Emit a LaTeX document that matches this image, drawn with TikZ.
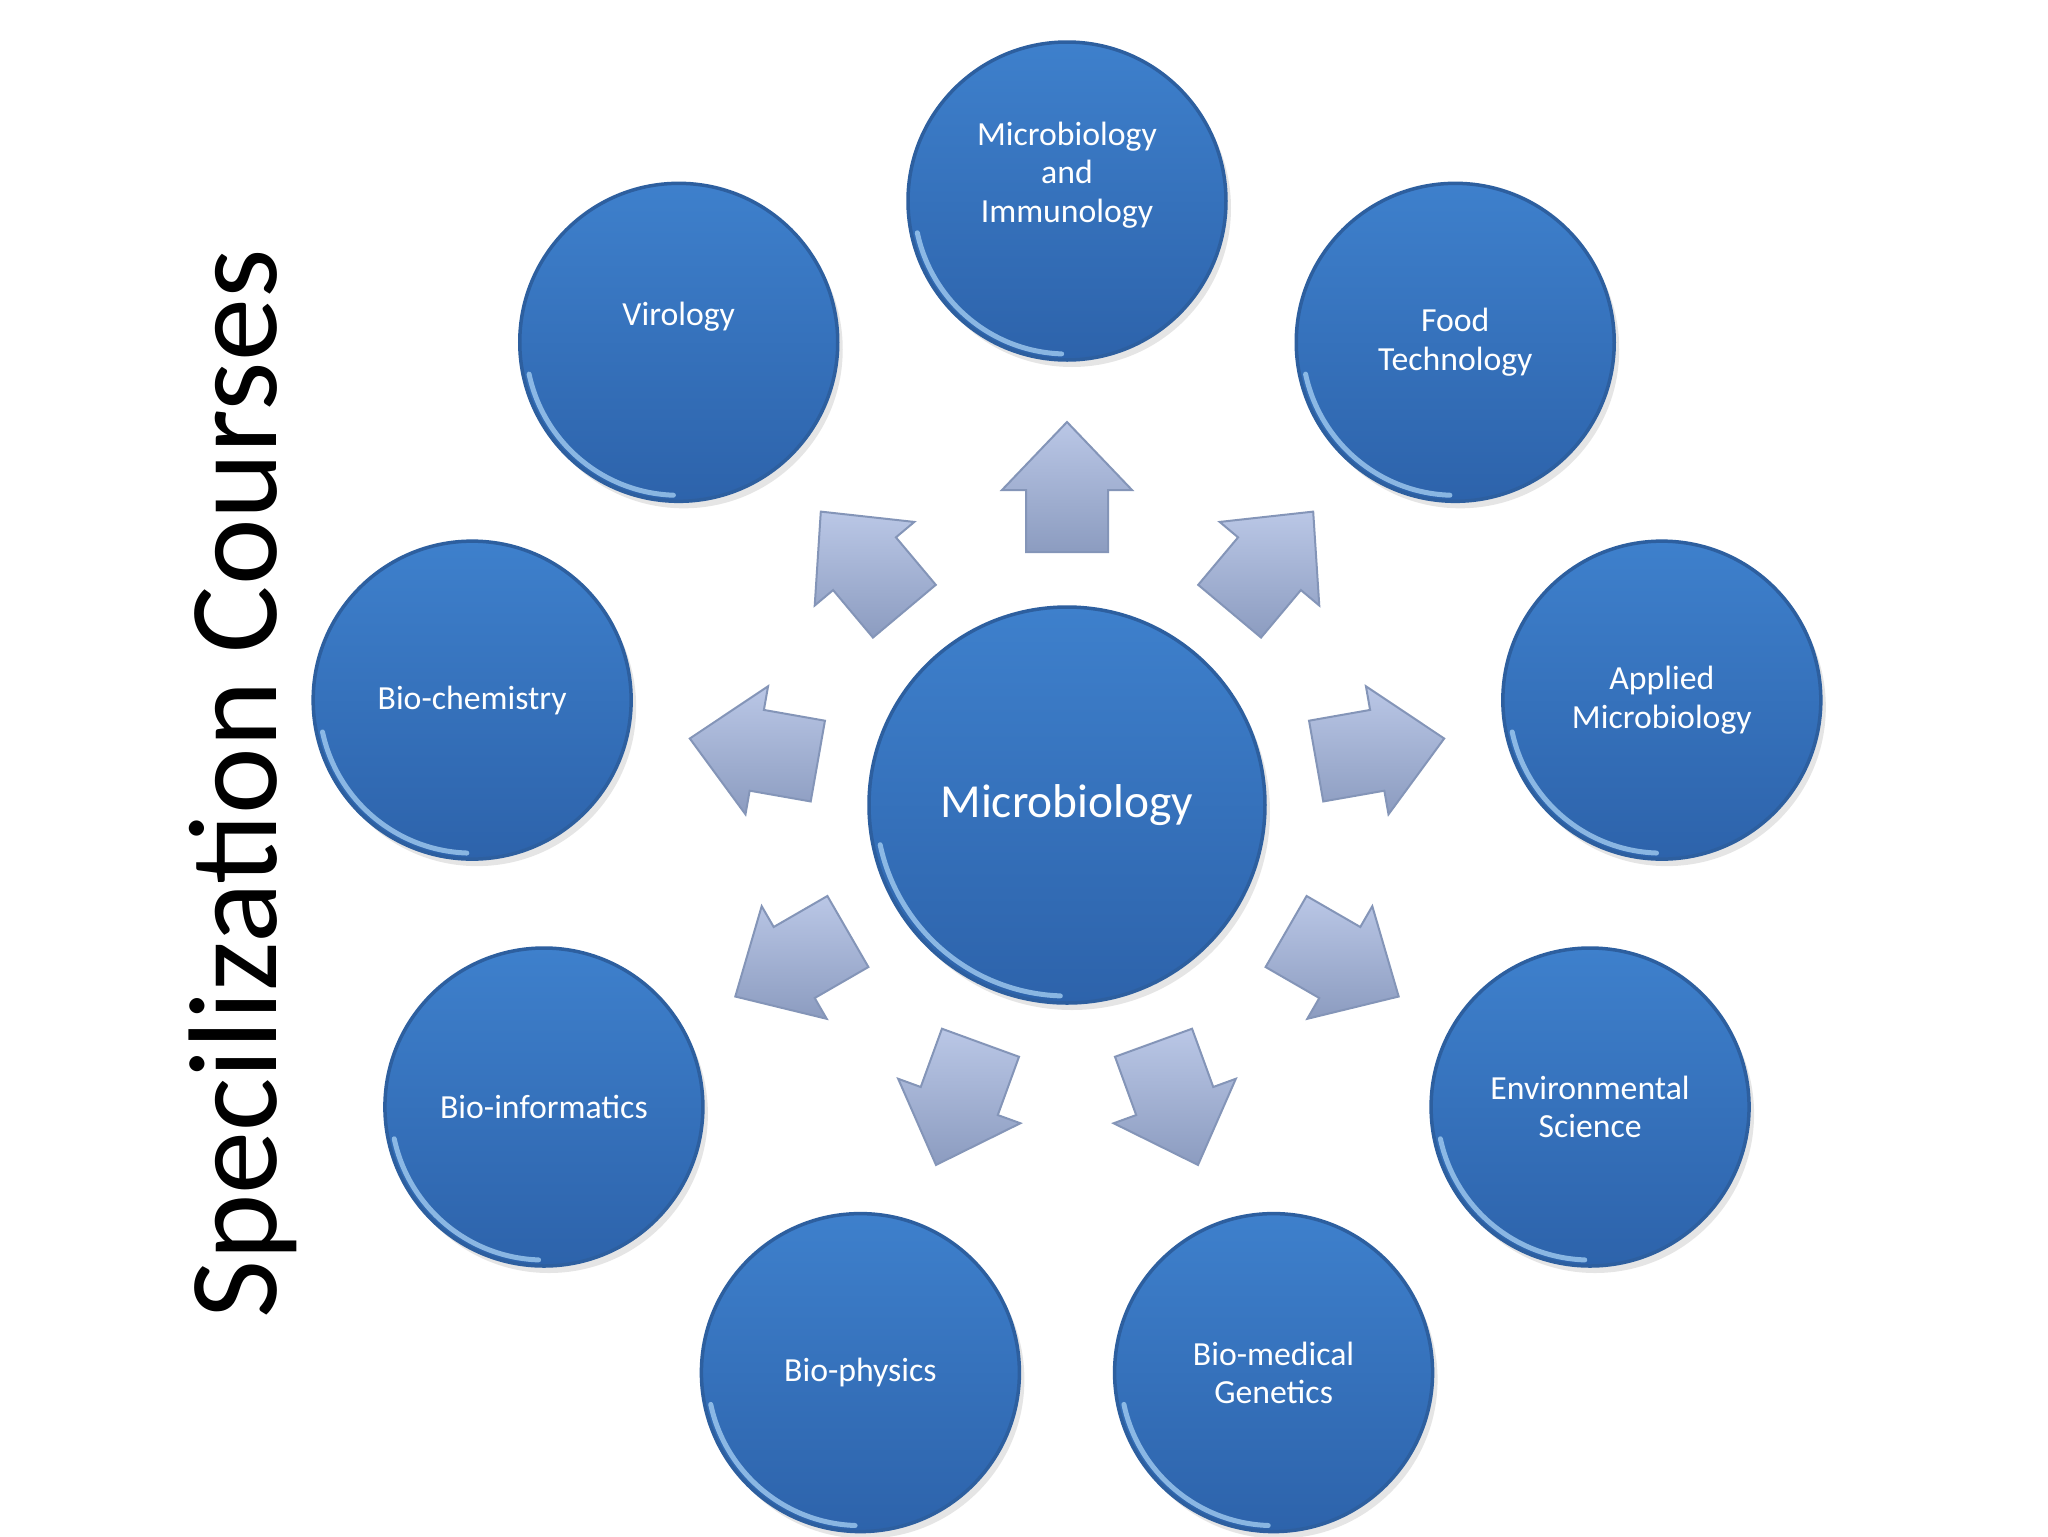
\documentclass[tikz,border=0pt]{standalone}
\usepackage{fontspec}
\setmainfont{Carlito}
\usetikzlibrary{shadows}
\definecolor{CircTop}{HTML}{3E80CC}
\definecolor{CircBot}{HTML}{2D63AB}
\definecolor{CircEdge}{HTML}{2D5F9F}
\definecolor{CircGlow}{HTML}{A9D2F5}
\definecolor{ArrTop}{HTML}{BAC7E6}
\definecolor{ArrBot}{HTML}{8C9CC0}
\definecolor{ArrEdge}{HTML}{8495B8}

\begin{document}
\begin{tikzpicture}[
  x=0.1mm, y=0.1mm,
  hub/.style={circle, top color=CircTop, bottom color=CircBot, draw=CircEdge, line width=0.35mm, minimum size=39.6mm, inner sep=0pt, align=center, text=white, font=\fontsize{13.5}{16}\selectfont, drop shadow={shadow xshift=0.5mm, shadow yshift=-0.7mm, opacity=0.2}},
  course/.style={hub, minimum size=31.8mm, font=\fontsize{9.6}{10.9}\selectfont},
  coursetext/.style={text=white, align=center, font=\fontsize{9.6}{10.9}\selectfont},
  glow/.style={draw=CircGlow, line width=0.5mm, line cap=round, opacity=0.75},
  blockarrow/.style={top color=ArrTop, bottom color=ArrBot, draw=ArrEdge, line width=0.2mm},
  title/.style={font=\fontsize{35.9}{40}\selectfont, text=black, inner sep=0pt}
]
\path[fill=white, use as bounding box] (-1067,-731) rectangle (981,805);

\node[title, rotate=90, anchor=base] (heading) at (-790,21) {Specilization Courses};

\node[hub] (micro) at (0,0) {Microbiology};

\node[course, label={[coursetext, yshift=2.6mm]center:Microbiology\\and\\Immunology}] (immuno) at (90:604) {};
\node[course] (food) at (50:604) {Food\\Technology};
\node[course] (applied) at (10:604) {Applied\\Microbiology};
\node[course] (enviro) at (-30:604) {Environmental\\Science};
\node[course] (biomed) at (-70:604) {Bio-medical\\Genetics};
\node[course] (biophys) at (-110:604) {Bio-physics};
\node[course] (bioinfo) at (-150:604) {Bio-informatics};
\node[course] (biochem) at (170:604) {Bio-chemistry};
\node[course, label={[coursetext, yshift=2.6mm]center:Virology}] (viro) at (130:604) {};

% bevel highlight
\foreach \n in {immuno,food,applied,enviro,biomed,biophys,bioinfo,biochem,viro}
  \draw[glow] ([shift={(192:15.3mm)}]\n.center) arc[start angle=192, end angle=268, radius=15.3mm];
\draw[glow] ([shift={(192:19.1mm)}]micro.center) arc[start angle=192, end angle=268, radius=19.1mm];

% arrows from the hub
\foreach \a in {90,50,10,-30,-70,-110,-150,170,130}
  \draw[blockarrow, shift={(micro.center)}, rotate=\a] (253,-41) -- (315,-41) -- (315,-65) -- (383,0) -- (315,65) -- (315,41) -- (253,41) -- cycle;
\end{tikzpicture}
\end{document}
